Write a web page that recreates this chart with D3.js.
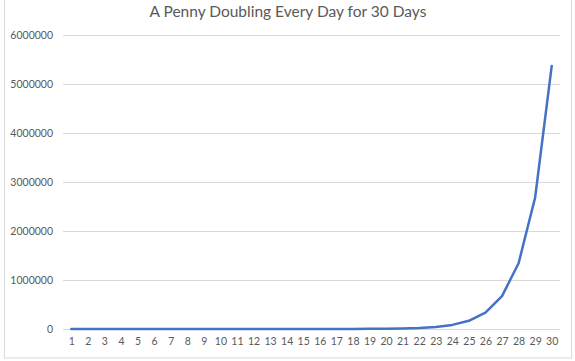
<!DOCTYPE html>
<html>
<head>
<meta charset="utf-8">
<script src="https://cdn.jsdelivr.net/npm/d3@7"></script>
<style>
  html, body { margin: 0; padding: 0; background: #fff; }
  svg { display: block; }
  text { font-family: Lato, "Open Sans", sans-serif; }
</style>
</head>
<body>
<svg id="chart" width="575" height="361"></svg>
<script>
const title = "A Penny Doubling Every Day for 30 Days";
const days = [1,2,3,4,5,6,7,8,9,10,11,12,13,14,15,16,17,18,19,20,21,22,23,24,25,26,27,28,29,30];
const pennies = [0.01,0.02,0.04,0.08,0.16,0.32,0.64,1.28,2.56,5.12,10.24,20.48,40.96,81.92,163.84,327.68,655.36,1310.72,2621.44,5242.88,10485.76,20971.52,41943.04,83886.08,167772.16,335544.32,671088.64,1342177.28,2684354.56,5368709.12];
const yTicks = [0,1000000,2000000,3000000,4000000,5000000,6000000];

const svg = d3.select("#chart");
const W = 575, H = 361;
const m = {left: 63, right: 15, top: 35, bottom: 32};

// chart border
svg.append("rect")
  .attr("x", 4.5).attr("y", -2).attr("width", 567).attr("height", 360)
  .attr("fill", "#fff").attr("stroke", "#d9d9d9").attr("stroke-width", 1);

const x = d3.scalePoint().domain(days).range([m.left, W - m.right]).padding(0.5);
const y = d3.scaleLinear().domain([0, 6000000]).range([H - m.bottom, m.top]);

// title
svg.append("text")
  .attr("x", 288).attr("y", 17)
  .attr("text-anchor", "middle")
  .attr("font-size", 15.5)
  .attr("fill", "#595959")
  .text(title);

// gridlines + y labels
const yAxis = d3.axisLeft(y).tickValues(yTicks).tickSize(-(W - m.right - m.left)).tickPadding(10).tickFormat(d3.format("d"));
const gy = svg.append("g").attr("transform", `translate(${m.left},0)`).call(yAxis);
gy.select(".domain").remove();
gy.selectAll(".tick line").attr("stroke", "#d9d9d9").attr("stroke-width", 1);
gy.selectAll(".tick text").attr("fill", "#595959").attr("font-size", 10.5).attr("font-family", "Lato, sans-serif");

// x axis labels
const xAxis = d3.axisBottom(x).tickSize(0).tickPadding(9);
const gx = svg.append("g").attr("transform", `translate(0,${y(0)})`).call(xAxis);
gx.select(".domain").attr("stroke", "#d9d9d9");
gx.selectAll(".tick text").attr("fill", "#595959").attr("font-size", 10.5).attr("font-family", "Lato, sans-serif");

// line
const line = d3.line().x((d, i) => x(days[i])).y(d => y(d));
svg.append("path")
  .datum(pennies)
  .attr("d", line)
  .attr("fill", "none")
  .attr("stroke", "#4472C4")
  .attr("stroke-width", 2.5)
  .attr("stroke-linejoin", "round")
  .attr("stroke-linecap", "round");
</script>
</body>
</html>
